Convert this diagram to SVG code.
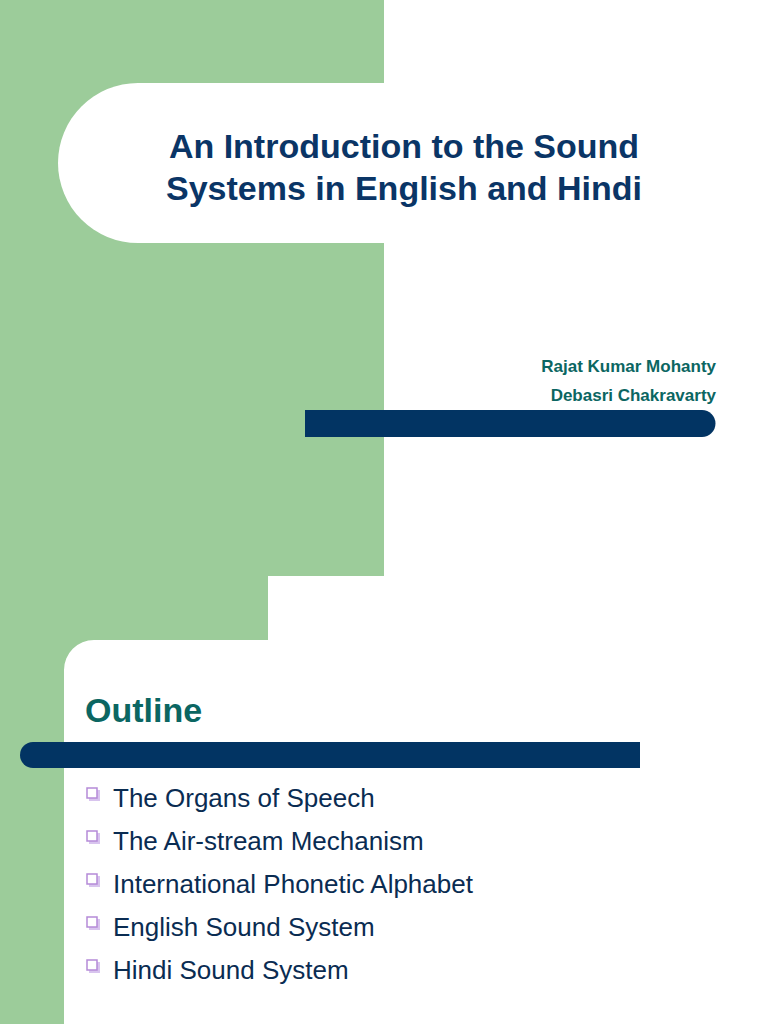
<svg xmlns="http://www.w3.org/2000/svg" width="768" height="1024" viewBox="0 0 768 1024">
<style>
.t{font-family:"Liberation Sans",Arial,sans-serif;font-weight:bold;fill:#0a3566}
.a{font-family:"Liberation Sans",Arial,sans-serif;font-weight:bold;fill:#0b6662;font-size:17px}
.b{font-family:"Liberation Sans",Arial,sans-serif;fill:#0a2c52;font-size:26px}
.sq{fill:#fff;stroke:#b58ad8;stroke-width:1.5}
</style>
<rect width="768" height="1024" fill="#fff"/>
<path d="M0 0H384V576H268V640H94A30 30 0 0 0 64 670V1024H0Z" fill="#9ccc9a"/>
<g id="title">
<path d="M138 83H384V243H138A80 80 0 0 1 138 83Z" fill="#fff"/>
<text class="t" font-size="34" text-anchor="middle" x="404" y="158">An Introduction to the Sound</text>
<text class="t" font-size="34" text-anchor="middle" x="404" y="200">Systems in English and Hindi</text>
</g>
<g id="authors">
<text class="a" text-anchor="end" x="716" y="372">Rajat Kumar Mohanty</text>
<text class="a" text-anchor="end" x="716" y="401">Debasri Chakravarty</text>
</g>
<path d="M305 410H702A13.5 13.5 0 0 1 702 437H305Z" fill="#023463"/>
<g id="outline">
<text x="85" y="722" font-family="Liberation Sans,Arial,sans-serif" font-weight="bold" font-size="34" fill="#0b6662">Outline</text>
</g>
<path d="M640 742H33A13 13 0 0 0 33 768H640Z" fill="#023463"/>
<g id="bullets">
<g fill="#d8c4ee"><rect x="89" y="790" width="11" height="11"/><rect x="89" y="833" width="11" height="11"/><rect x="89" y="876" width="11" height="11"/><rect x="89" y="919" width="11" height="11"/><rect x="89" y="962" width="11" height="11"/></g>
<g class="sq"><rect x="87" y="788" width="10" height="10"/><rect x="87" y="831" width="10" height="10"/><rect x="87" y="874" width="10" height="10"/><rect x="87" y="917" width="10" height="10"/><rect x="87" y="960" width="10" height="10"/></g>
<text class="b" x="113" y="807">The Organs of Speech</text>
<text class="b" x="113" y="850">The Air-stream Mechanism</text>
<text class="b" x="113" y="893">International Phonetic Alphabet</text>
<text class="b" x="113" y="936">English Sound System</text>
<text class="b" x="113" y="979">Hindi Sound System</text>
</g>
</svg>
